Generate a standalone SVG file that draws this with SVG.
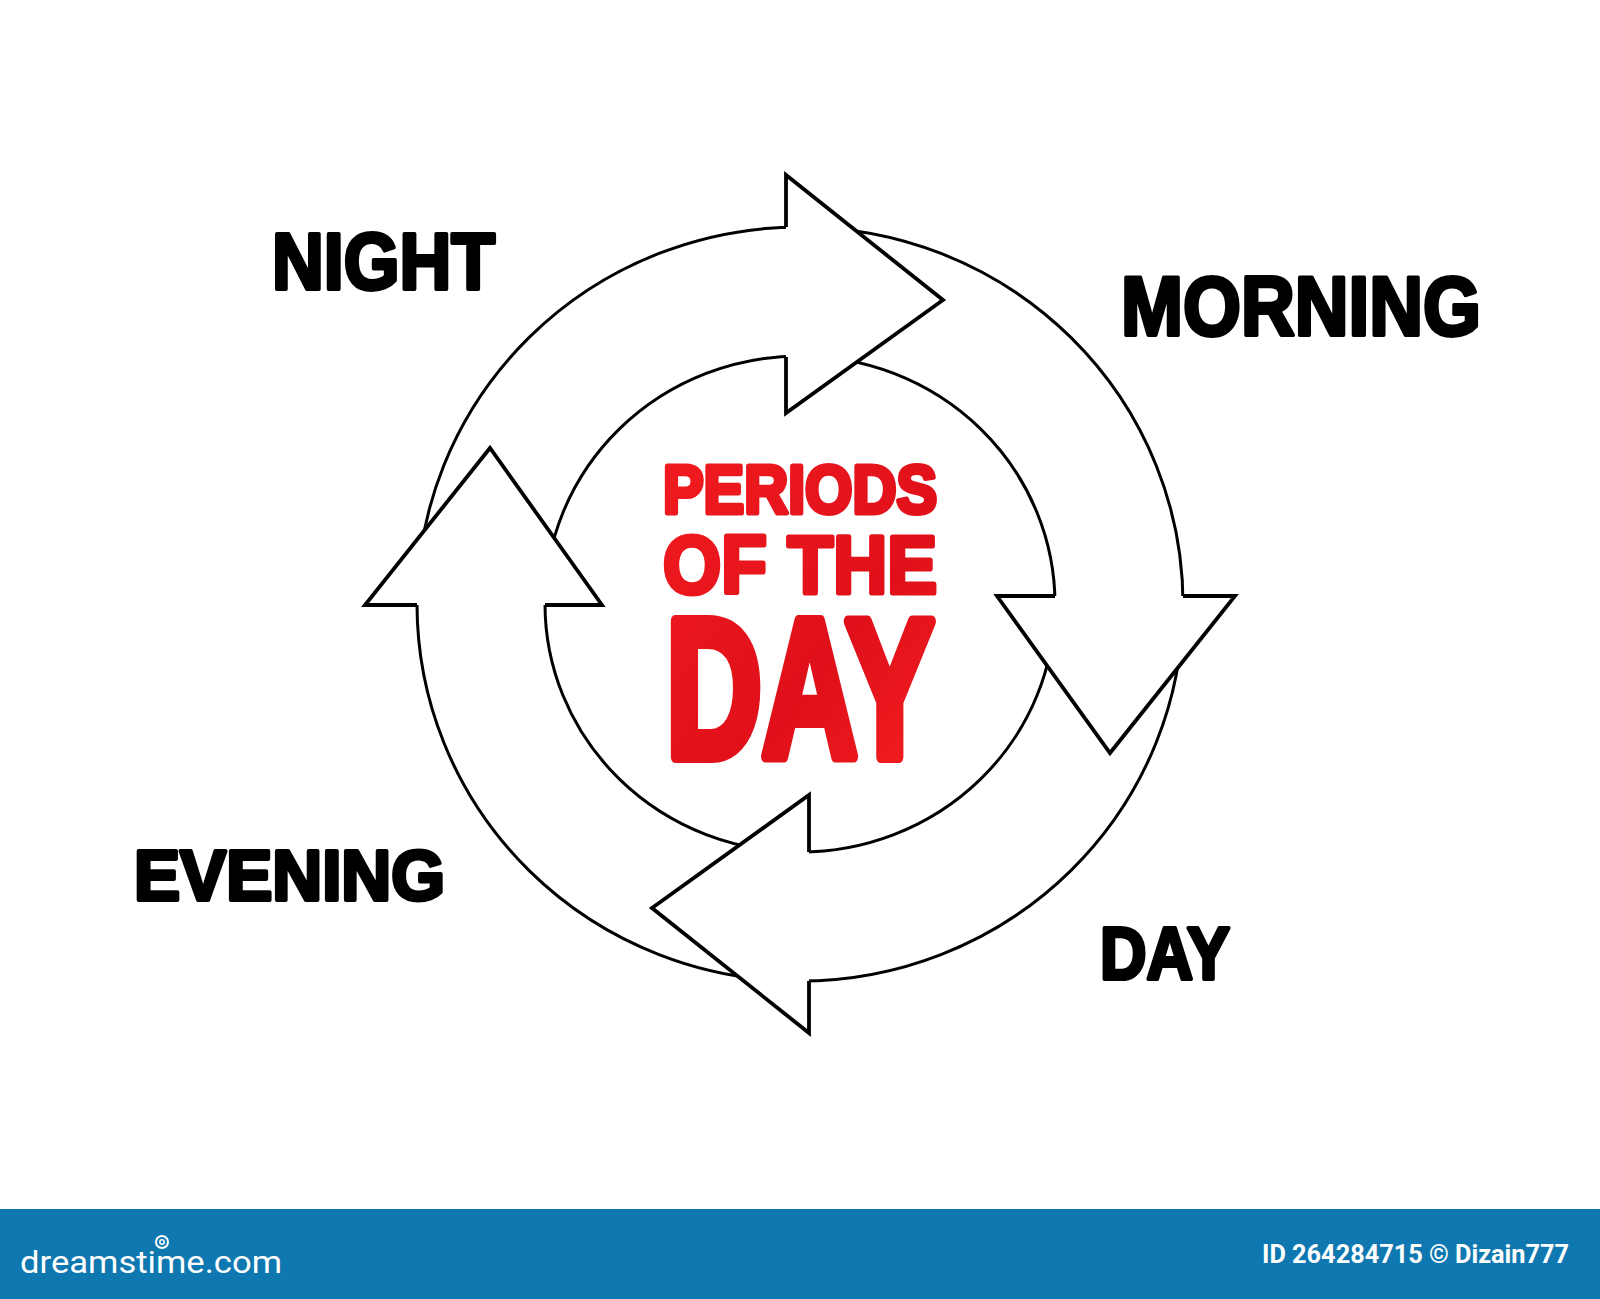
<svg xmlns="http://www.w3.org/2000/svg" width="1600" height="1299" viewBox="0 0 1600 1299">
  <style>
    .ring { fill: none; stroke: #000; stroke-width: 3; }
    .headfill { fill: #fff; stroke: none; }
    .headline { fill: none; stroke: #000; stroke-width: 3.8; stroke-linejoin: miter; stroke-miterlimit: 10; }
    .label { font-family: "Liberation Sans", Arial, sans-serif; font-weight: 700; fill: #000; stroke: #000; stroke-width: 4; stroke-linejoin: round; }
    .title { font-family: "Liberation Sans", Arial, sans-serif; font-weight: 700; fill: url(#red); stroke: url(#red); stroke-linejoin: round; }
    .bar { font-family: Roboto, "Liberation Sans", sans-serif; fill: #fff; }
  </style>
  <defs>
    <linearGradient id="red" x1="0" y1="0" x2="1" y2="1">
      <stop offset="0" stop-color="#f01b1f"/>
      <stop offset="0.6" stop-color="#e0101a"/>
      <stop offset="1" stop-color="#f42020"/>
    </linearGradient>
  </defs>
  <rect x="0" y="0" width="1600" height="1299" fill="#fff"/>

  <g id="cycle-arrows">
    <ellipse class="ring" cx="800" cy="604" rx="383" ry="377"/>
    <ellipse class="ring" cx="800" cy="604" rx="255" ry="248"/>
    <g id="arrow-night-to-morning">
      <polygon class="headfill" points="786,175 943,300 786,413"/>
      <path class="headline" d="M786,227 L786,175 L943,300 L786,413 L786,357"/>
    </g>
    <g id="arrow-morning-to-day">
      <polygon class="headfill" points="1235,596 1110,753 997,596"/>
      <path class="headline" d="M1183,596 L1235,596 L1110,753 L997,596 L1055,596"/>
    </g>
    <g id="arrow-day-to-evening">
      <polygon class="headfill" points="809,1033 652,908 809,795"/>
      <path class="headline" d="M809,981 L809,1033 L652,908 L809,795 L809,852"/>
    </g>
    <g id="arrow-evening-to-night">
      <polygon class="headfill" points="365,605 490,448 602,605"/>
      <path class="headline" d="M417,605 L365,605 L490,448 L602,605 L545,605"/>
    </g>
  </g>

  <g id="title">
    <text class="title"><tspan x="663" y="513" font-size="68" stroke-width="5" textLength="274" lengthAdjust="spacingAndGlyphs">PERIODS</tspan><tspan x="663" y="593" font-size="82" stroke-width="5" textLength="274" lengthAdjust="spacingAndGlyphs">OF THE</tspan><tspan x="666" y="757" font-size="197" stroke-width="12" textLength="268" lengthAdjust="spacingAndGlyphs">DAY</tspan></text>
  </g>

  <g id="label-night">
    <text class="label" x="272" y="289" font-size="80" textLength="223" lengthAdjust="spacingAndGlyphs">NIGHT</text>
  </g>
  <g id="label-morning">
    <text class="label" x="1121" y="335" font-size="84" textLength="360" lengthAdjust="spacingAndGlyphs">MORNING</text>
  </g>
  <g id="label-evening">
    <text class="label" x="134" y="900" font-size="71" textLength="311" lengthAdjust="spacingAndGlyphs">EVENING</text>
  </g>
  <g id="label-day">
    <text class="label" x="1100" y="979" font-size="75" textLength="130" lengthAdjust="spacingAndGlyphs">DAY</text>
  </g>

  <g id="footer">
    <rect x="0" y="1209" width="1600" height="90" fill="#1078b0"/>
    <text class="bar" x="20" y="1273" font-size="31" textLength="262" lengthAdjust="spacingAndGlyphs">dreamstime.com</text>
    <circle cx="162" cy="1242" r="6" fill="#1078b0" stroke="#fff" stroke-width="2"/>
    <circle cx="162" cy="1242" r="2.2" fill="none" stroke="#fff" stroke-width="1.5"/>
    <text class="bar" x="1262" y="1263" font-size="26" font-weight="700" textLength="307" lengthAdjust="spacingAndGlyphs">ID 264284715 © Dizain777</text>
  </g>
</svg>
